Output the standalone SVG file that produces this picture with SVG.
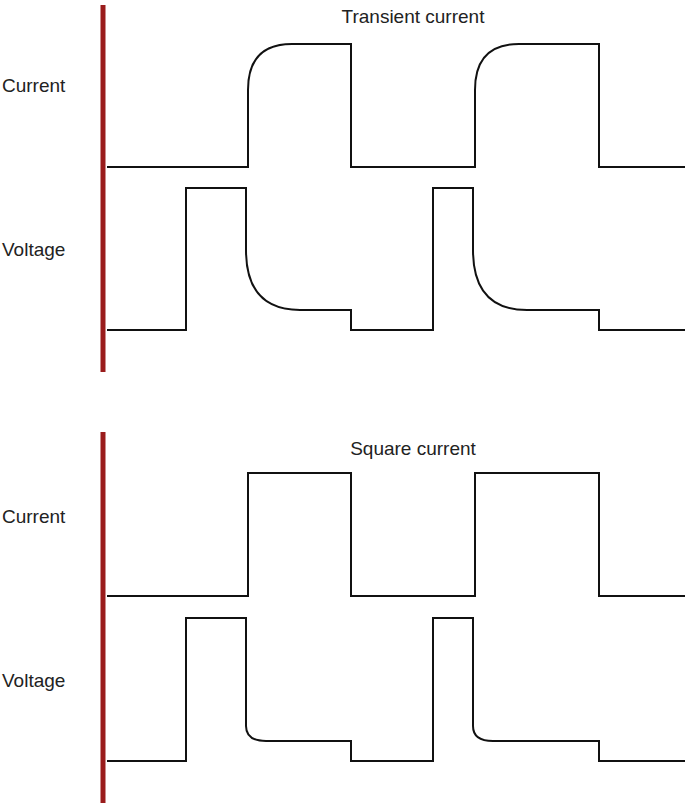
<svg xmlns="http://www.w3.org/2000/svg" width="685" height="805" viewBox="0 0 685 805">
<style>
.w{fill:none;stroke:#111;stroke-width:2}
.ax{fill:none;stroke:#9a1c1c;stroke-width:5}
text{font-family:"Liberation Sans",Arial,sans-serif;font-size:19px;fill:#222}
</style>
<rect width="685" height="805" fill="#fff"/>
<g id="axes">
<line class="ax" x1="103" y1="5" x2="103" y2="372"/>
<line class="ax" x1="103" y1="432" x2="103" y2="803"/>
</g>
<g id="labels">
<text x="2" y="92">Current</text>
<text x="2" y="256">Voltage</text>
<text x="413" y="23" text-anchor="middle">Transient current</text>
<text x="413" y="455" text-anchor="middle">Square current</text>
<text x="2" y="523">Current</text>
<text x="2" y="687">Voltage</text>
</g>
<g id="connectors">
<path class="w" d="M107 167H248V90Q248 44 292 44H351V167H475V90Q475 44 519 44H599V167H685"/>
<path class="w" d="M107 330H186V188H246V250Q246 310 300 310H351V330H433V188H473V250Q473 310 527 310H599V330H685"/>
<path class="w" d="M107 596H248V473H351V596H475V473H599V596H685"/>
<path class="w" d="M107 761H186V618H246V726Q246 741 266 741H351V761H433V618H473V726Q473 741 493 741H599V761H685"/>
</g>
</svg>
